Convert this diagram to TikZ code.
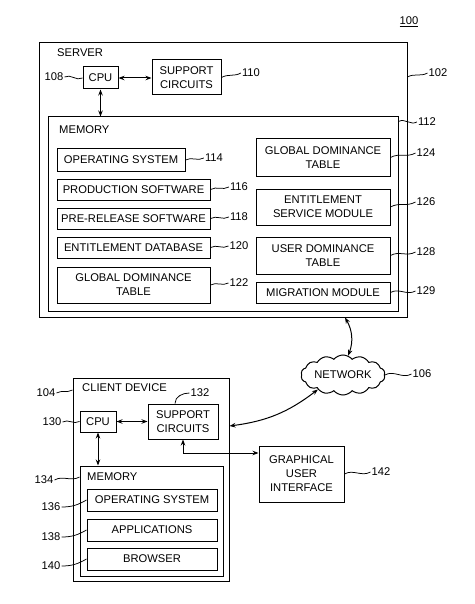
\documentclass[tikz,border=0pt]{standalone}
\usepackage{fontspec}
\setmainfont{Liberation Sans}
\usetikzlibrary{arrows.meta,shapes.symbols}
\begin{document}
\begin{tikzpicture}[x=1pt,y=-1pt,
 every node/.style={font=\fontsize{11.2}{14}\selectfont},
 box/.style={draw, line width=1pt, inner sep=0pt, align=center},
 lbl/.style={inner sep=1pt},
 ttl/.style={inner sep=0pt, anchor=west},
 leader/.style={line width=0.75pt},
 arr/.style={line width=1pt, {Stealth[length=6pt,width=4.5pt]}-{Stealth[length=6pt,width=4.5pt]}}]
\useasboundingbox (0,0) rectangle (474,604);

% ---------- server ----------
\node[box, minimum width=368pt, minimum height=274pt] (server) at (223,180) {};
\node[ttl] (tserver) at (57,53) {SERVER};
\node[box, minimum width=35pt, minimum height=22pt] (cpu1) at (100.5,78) {CPU};
\node[box, minimum width=69pt, minimum height=35pt] (sc1) at (186.5,77.5) {SUPPORT\\CIRCUITS};
\node[box, minimum width=350pt, minimum height=194pt] (mem1) at (223,214) {};
\node[ttl] (tmem1) at (59,130) {MEMORY};
\node[box, minimum width=128pt, minimum height=22pt] (os1) at (121,160) {OPERATING SYSTEM};
\node[box, minimum width=153pt, minimum height=21pt] (prod) at (133.5,189.5) {PRODUCTION SOFTWARE};
\node[box, minimum width=153pt, minimum height=21pt] (pre) at (133.5,218.5) {PRE-RELEASE SOFTWARE};
\node[box, minimum width=153pt, minimum height=21pt] (edb) at (133.5,247.5) {ENTITLEMENT DATABASE};
\node[box, minimum width=153pt, minimum height=36pt] (gdt1) at (133.5,285) {GLOBAL DOMINANCE\\TABLE};
\node[box, minimum width=134pt, minimum height=37pt] (gdt2) at (323,157.5) {GLOBAL DOMINANCE\\TABLE};
\node[box, minimum width=134pt, minimum height=36pt] (ess) at (323,207) {ENTITLEMENT\\SERVICE MODULE};
\node[box, minimum width=134pt, minimum height=37pt] (udt) at (323,255.5) {USER DOMINANCE\\TABLE};
\node[box, minimum width=134pt, minimum height=21pt] (mig) at (323,292.5) {MIGRATION MODULE};

% ---------- network ----------
\node[cloud, draw, line width=1pt, cloud puffs=14, cloud puff arc=100, cloud ignores aspect,
      minimum width=84pt, minimum height=40pt, inner sep=0pt] (cloud) at (343,375) {NETWORK};

% ---------- client ----------
\node[box, minimum width=156pt, minimum height=203pt] (client) at (151,479.5) {};
\node[ttl] (tclient) at (82,388) {CLIENT DEVICE};
\node[box, minimum width=36pt, minimum height=21pt] (cpu2) at (98,421.5) {CPU};
\node[box, minimum width=70pt, minimum height=35pt] (sc2) at (183,421.5) {SUPPORT\\CIRCUITS};
\node[box, minimum width=143pt, minimum height=110pt] (mem2) at (151.5,521) {};
\node[ttl] (tmem2) at (87,477) {MEMORY};
\node[box, minimum width=130pt, minimum height=22pt] (os2) at (152,500) {OPERATING SYSTEM};
\node[box, minimum width=130pt, minimum height=22pt] (app) at (152,530) {APPLICATIONS};
\node[box, minimum width=130pt, minimum height=22pt] (brw) at (152,559) {BROWSER};
\node[box, minimum width=85pt, minimum height=56pt] (gui) at (301.5,474) {GRAPHICAL\\USER\\INTERFACE};

% ---------- reference numerals ----------
\node[lbl] (l100) at (409,22) {\underline{100}};
\node[lbl] (l102) at (438,73) {102};
\node[lbl] (l108) at (54,77) {108};
\node[lbl] (l110) at (251,73) {110};
\node[lbl] (l112) at (427,122) {112};
\node[lbl] (l114) at (214,158) {114};
\node[lbl] (l116) at (239,187) {116};
\node[lbl] (l118) at (239,217) {118};
\node[lbl] (l120) at (239,246) {120};
\node[lbl] (l122) at (239,283) {122};
\node[lbl] (l124) at (426,153) {124};
\node[lbl] (l126) at (426,202) {126};
\node[lbl] (l128) at (426,252) {128};
\node[lbl] (l129) at (426,291) {129};
\node[lbl] (l106) at (422,374) {106};
\node[lbl] (l104) at (46,393) {104};
\node[lbl] (l130) at (52,422) {130};
\node[lbl] (l132) at (200,393) {132};
\node[lbl] (l134) at (44,480) {134};
\node[lbl] (l136) at (51,507) {136};
\node[lbl] (l138) at (51,537) {138};
\node[lbl] (l140) at (51,566) {140};
\node[lbl] (l142) at (381,472) {142};

% ---------- leaders ----------
\draw[leader] ([yshift=103pt]server.east) to[out=30,in=210] (l102.west);
\draw[leader] (l108.east) to[out=30,in=210] (cpu1.west);
\draw[leader] (sc1.east) to[out=30,in=210] (l110.west);
\draw[leader] ([yshift=-5pt]mem1.north east) to[out=30,in=210] (l112.west);
\draw[leader] (os1.east) to[out=30,in=210] (l114.west);
\draw[leader] (prod.east) to[out=30,in=210] (l116.west);
\draw[leader] (pre.east) to[out=30,in=210] (l118.west);
\draw[leader] (edb.east) to[out=30,in=210] (l120.west);
\draw[leader] (gdt1.east) to[out=30,in=210] (l122.west);
\draw[leader] (gdt2.east) to[out=30,in=210] (l124.west);
\draw[leader] (ess.east) to[out=30,in=210] (l126.west);
\draw[leader] (udt.east) to[out=30,in=210] (l128.west);
\draw[leader] (mig.east) to[out=30,in=210] (l129.west);
\draw[leader] (cloud.east) to[out=30,in=210] (l106.west);
\draw[leader] (l104.east) to[out=30,in=210] ([yshift=89.5pt]client.west);
\draw[leader] (l130.east) to[out=30,in=210] (cpu2.west);
\draw[leader] ([xshift=-8pt]sc2.north) to[out=90,in=180] (l132.west);
\draw[leader] (l134.east) to[out=30,in=210] ([yshift=44pt]mem2.west);
\draw[leader] (l136.east) to[out=0,in=210] (os2.west);
\draw[leader] (l138.east) to[out=0,in=210] (app.west);
\draw[leader] (l140.east) to[out=0,in=210] (brw.west);
\draw[leader] (gui.east) to[out=30,in=210] (l142.west);

% ---------- connectors ----------
\draw[arr] (cpu1.east) -- (cpu1.east -| sc1.west);
\draw[arr] (cpu1.south) -- (cpu1.south |- mem1.north);
\draw[arr] ([xshift=122pt]server.south) to[bend left=25] (cloud.75);
\draw[arr] ([yshift=53.5pt]client.east) to[bend right=15] (cloud.210);
\draw[arr] (cpu2.east) -- (cpu2.east -| sc2.west);
\draw[arr] (cpu2.south) -- (cpu2.south |- mem2.north);
\draw[arr] (sc2.south) |- ([yshift=21pt]gui.west);
\end{tikzpicture}
\end{document}
